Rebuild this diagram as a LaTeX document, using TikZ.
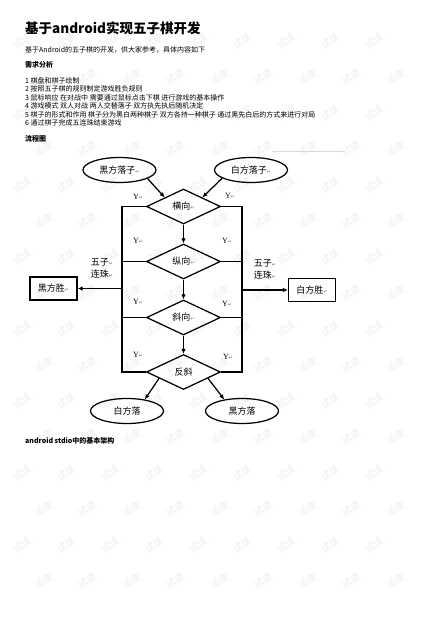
\documentclass[tikz,border=0pt]{standalone}
\usepackage{fontspec}
\setmainfont{Liberation Sans}
\newfontfamily\cjk{Noto Sans CJK SC}
\newfontfamily\ylatin{Liberation Serif}
\newfontfamily\markfont{DejaVu Sans}
\usetikzlibrary{shapes.geometric,arrows.meta,calc}

\newcommand{\ret}{{\markfont\color{black!55}\fontsize{5}{5}\selectfont ↵}}

\tikzset{
    flow/.style={line width=1.25pt},
    arr/.style={flow, -{Latex[length=5pt,width=4.5pt]}},
    oval/.style={draw, ellipse, flow, minimum width=73pt, minimum height=25pt, inner sep=0pt, font=\cjk\fontsize{9}{9}\selectfont},
    dia/.style={draw, diamond, flow, aspect=2.1, minimum width=74pt, minimum height=35pt, inner sep=0pt, font=\cjk\fontsize{9}{9}\selectfont},
    winbox/.style={draw, rectangle, flow, minimum width=47pt, minimum height=23pt, inner sep=0pt, font=\cjk\fontsize{9}{9}\selectfont},
    ylab/.style={font=\ylatin\fontsize{8}{8}\selectfont, inner sep=0pt},
    lianzhu/.style={align=center, inner sep=0pt, font=\cjk\fontsize{9}{12}\selectfont},
    para/.style={anchor=west, inner sep=0pt, font=\cjk\fontsize{7}{7}\selectfont},
    wm/.style={text=black!7, rotate=35, inner sep=0pt, font=\cjk\fontsize{10}{10}\selectfont}
}

\begin{document}
\begin{tikzpicture}[x=1pt, y=-1pt]
    \useasboundingbox[fill=white] (0,0) rectangle (440,620);

    % watermark
    \foreach \r in {1,...,16}
        \foreach \c in {0,...,8}
            \node[wm] (wm-\r-\c) at ({22+21*mod(\r+1,2)+44*\c}, {5+36*\r}) {试读};

    % page text
    \node[para, font=\cjk\bfseries\fontsize{13.5}{14}\selectfont] (title) at (25,28) {基于android实现五子棋开发};
    \node[para] (intro) at (25,50) {基于Android的五子棋的开发，供大家参考，具体内容如下};
    \node[para, font=\cjk\bfseries\fontsize{7}{7}\selectfont] (xuqiu) at (25,64.5) {需求分析};
    \foreach \t [count=\i] in {1 棋盘和棋子绘制,
            2 按照五子棋的规则制定游戏胜负规则,
            3 鼠标响应 在对战中 需要通过鼠标点击下棋 进行游戏的基本操作,
            4 游戏模式 双人对战 两人交替落子 双方执先执后随机决定,
            5 棋子的形式和作用 棋子分为黑白两种棋子 双方各持一种棋子 通过黑先白后的方式来进行对局,
            6 通过棋子完成五连珠结束游戏}
        \node[para] (item\i) at (25, {80.7+8.45*(\i-1)}) {\t};
    \node[para, font=\cjk\bfseries\fontsize{7}{7}\selectfont] (liucheng) at (25,139) {流程图};
    \draw[black!15, line width=0.4pt] (272,151) -- (345,151);
    \node[para, font=\cjk\bfseries\fontsize{7}{7}\selectfont] (jiagou) at (25,441) {android stdio中的基本架构};

    % flow chart
    \node[oval] (hei) at (119.5,170) {黑方落子\ret};
    \node[oval] (bai) at (251,170) {白方落子\ret};
    \node[dia] (heng) at (183.5,206.5) {横向\ret};
    \node[dia] (zong) at (183.5,261.5) {纵向\ret};
    \node[dia] (xie) at (183.5,317.5) {斜向\ret};
    \node[dia] (fan) at (183.5,372) {反斜};
    \node[winbox] (heisheng) at (53.5,288.5) {黑方胜\ret};
    \node[winbox] (baisheng) at (312,290) {白方胜\ret};
    \node[oval] (bailuo) at (127,411) {白方落};
    \node[oval] (heiluo) at (242,411) {黑方落};

    \coordinate (lt) at (122,206.5);
    \coordinate (lb) at (122,372);
    \coordinate (rt) at (242,206.5);
    \coordinate (rb) at (242,372);

    \draw[arr] (hei.-17) -- (heng.north west);
    \draw[arr] (bai.-164) -- (heng.north east);
    \draw[arr] (heng.south) -- (zong.north);
    \draw[arr] (zong.south) -- (xie.north);
    \draw[arr] (xie.south) -- (fan.north);

    \draw[flow] (heng.west) -- (lt) -- (lb) -- (fan.west);
    \draw[flow] (heng.east) -- (rt) -- (rb) -- (fan.east);
    \draw[flow] (zong.west) -- (zong.west -| lt);
    \draw[flow] (zong.east) -- (zong.east -| rt);
    \draw[flow] (xie.west) -- (xie.west -| lt);
    \draw[flow] (xie.east) -- (xie.east -| rt);

    \draw[arr] (heisheng.east -| lt) -- (heisheng.east);
    \draw[arr] (baisheng.west -| rt) -- (baisheng.west);

    \draw[arr] ($(fan.west)!0.35!(fan.south)$) -- (bailuo.33);
    \draw[arr] ($(fan.east)!0.35!(fan.south)$) -- (heiluo.147);

    \node[lianzhu] (wuzi-l) at (102,268) {五子\ret\\连珠\ret};
    \node[lianzhu] (wuzi-r) at (265,269) {五子\ret\\连珠\ret};

    \node[ylab] (y1) at (138,197) {Y\ret};
    \node[ylab] (y2) at (230,196) {Y\ret};
    \node[ylab] (y3) at (138,241) {Y\ret};
    \node[ylab] (y4) at (227,241) {Y\ret};
    \node[ylab] (y5) at (138,302) {Y\ret};
    \node[ylab] (y6) at (227,304) {Y\ret};
    \node[ylab] (y7) at (138,355) {Y\ret};
    \node[ylab] (y8) at (228,357) {Y\ret};
\end{tikzpicture}
\end{document}
